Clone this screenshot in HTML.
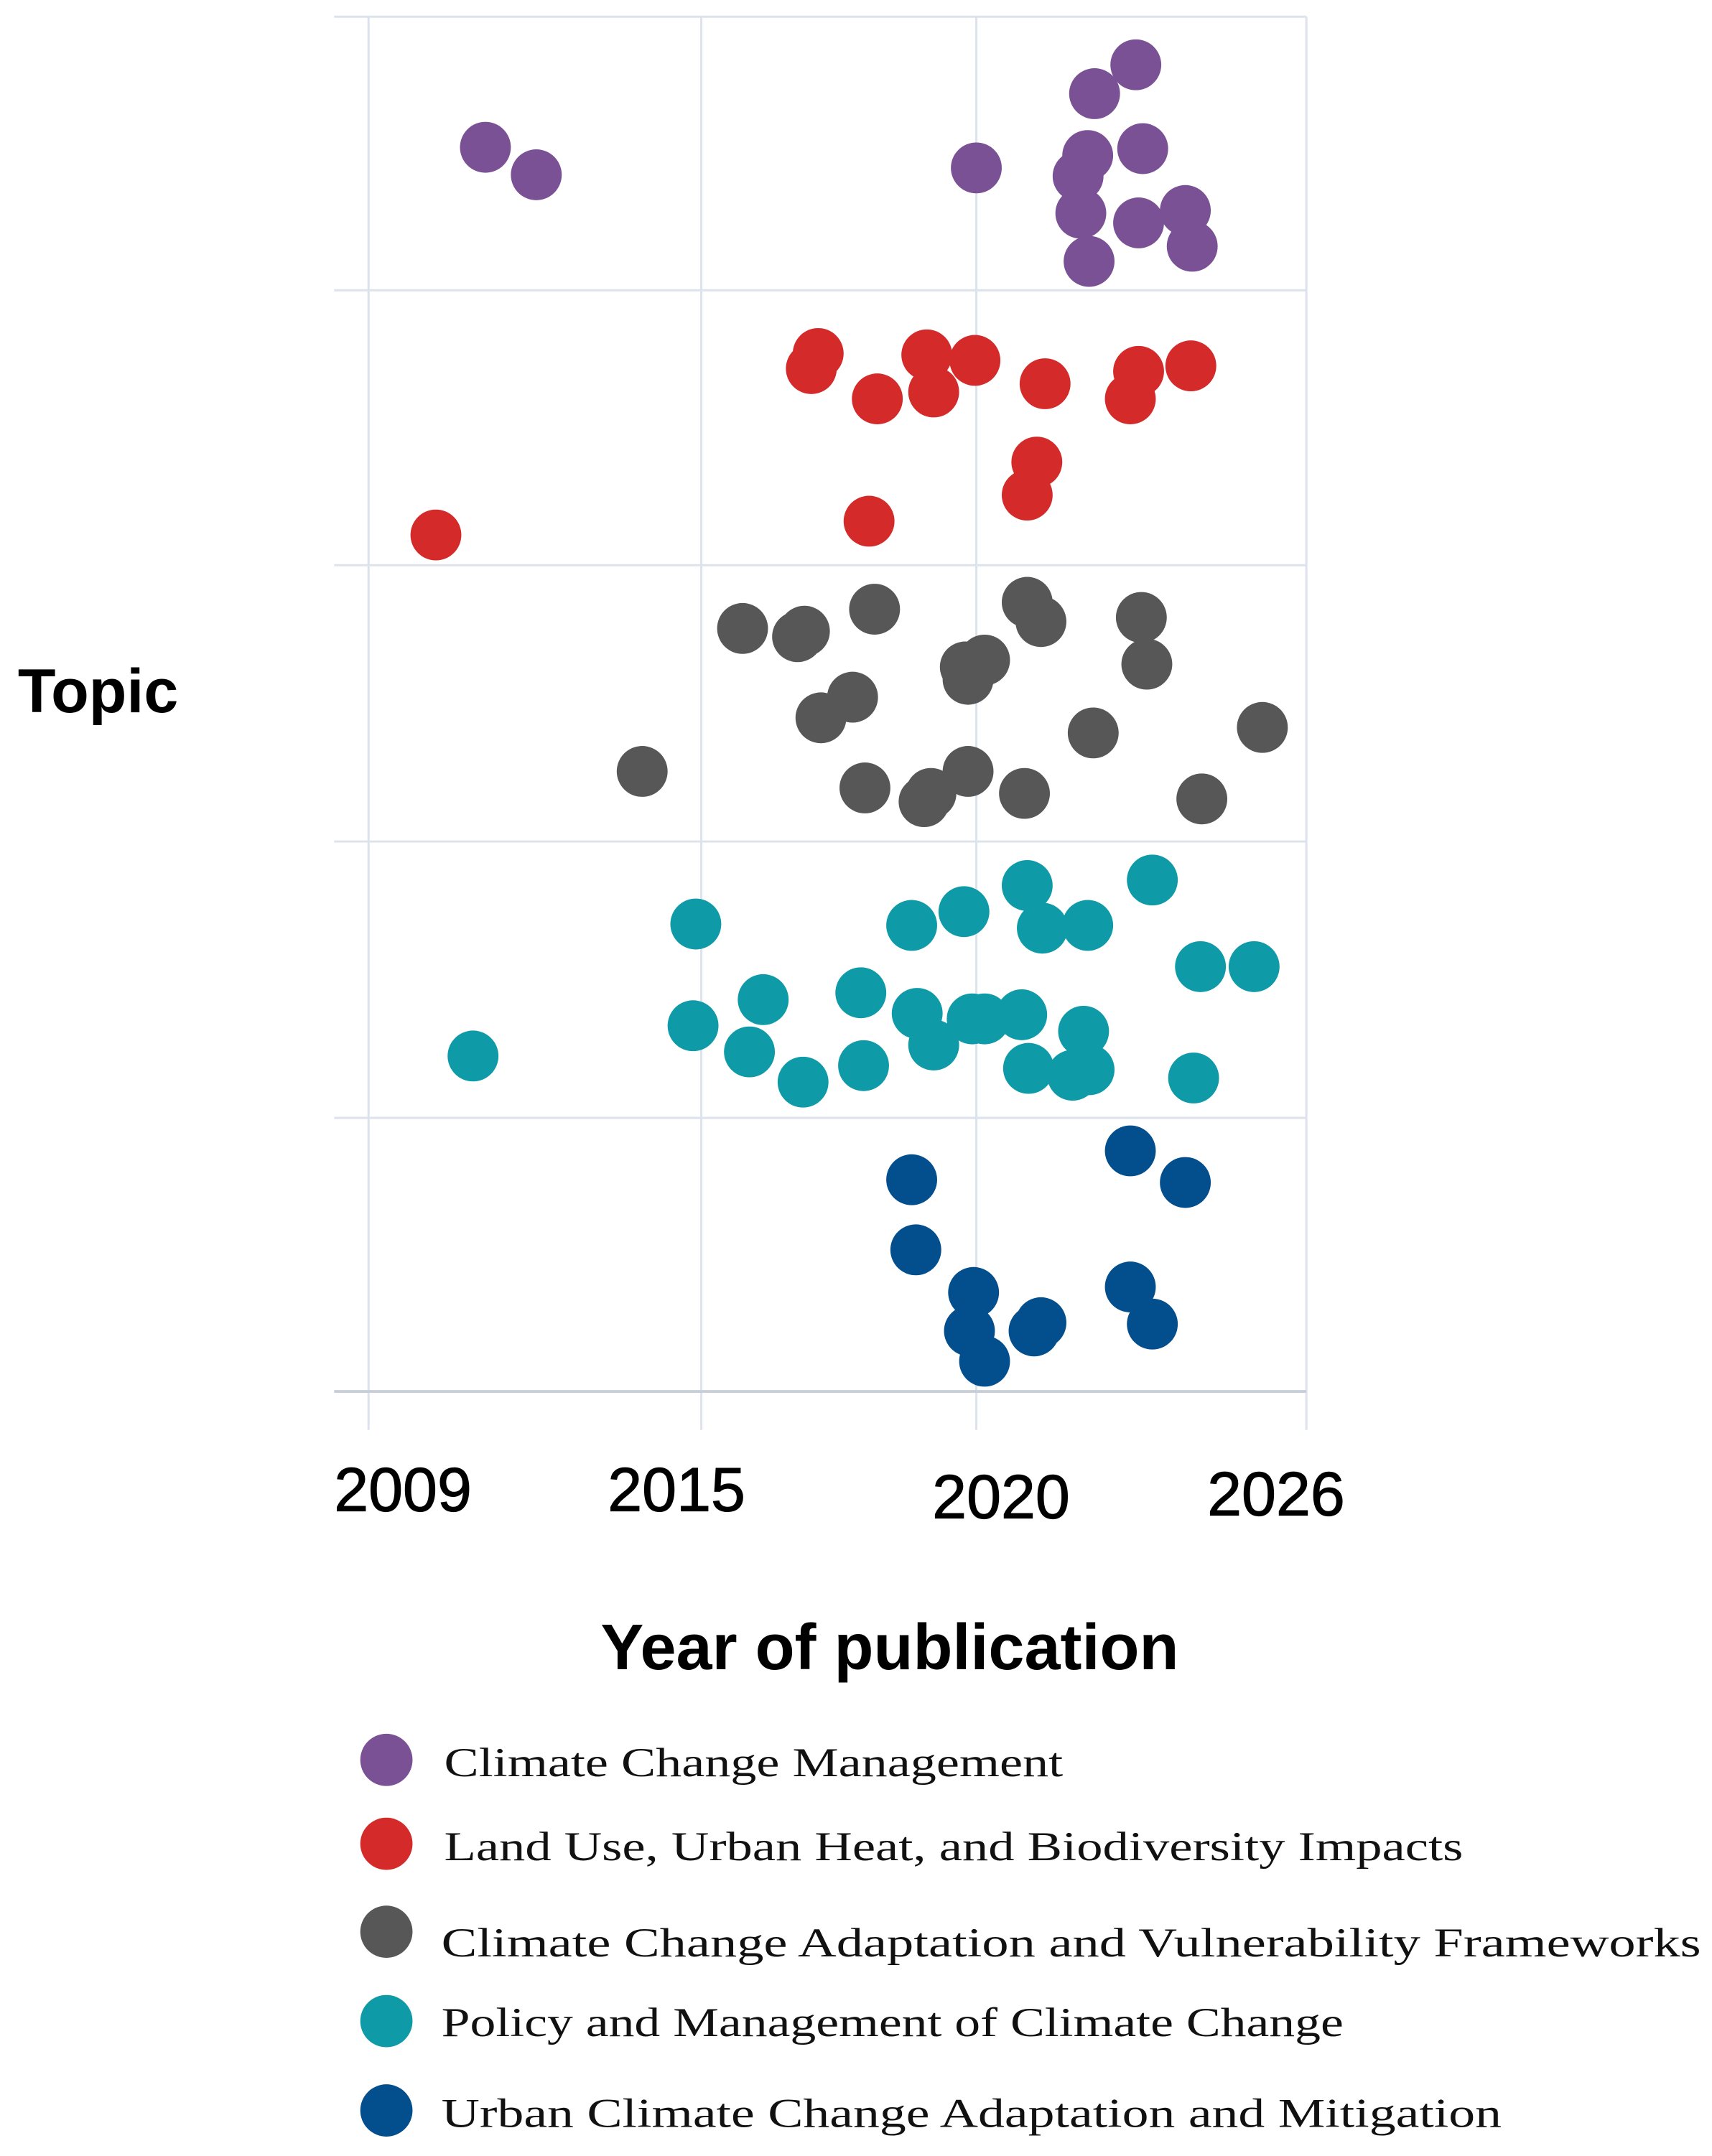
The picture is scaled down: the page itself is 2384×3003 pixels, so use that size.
<!DOCTYPE html>
<html><head><meta charset="utf-8"><style>html,body{margin:0;padding:0;background:#fff}svg{display:block}</style></head>
<body>
<svg width="2384" height="3003" viewBox="0 0 1245 1568" xmlns="http://www.w3.org/2000/svg">
<rect width="1245" height="1568" fill="#fff"/>
<g stroke="#dde3ec" stroke-width="1.6">
<line x1="243" y1="12" x2="950" y2="12"/>
<line x1="243" y1="211" x2="950" y2="211"/>
<line x1="243" y1="411" x2="950" y2="411"/>
<line x1="243" y1="612" x2="950" y2="612"/>
<line x1="243" y1="813" x2="950" y2="813"/>
<line x1="268" y1="12" x2="268" y2="1040"/>
<line x1="510" y1="12" x2="510" y2="1040"/>
<line x1="710" y1="12" x2="710" y2="1040"/>
<line x1="950" y1="12" x2="950" y2="1040"/>
</g>
<line x1="243" y1="1012" x2="950" y2="1012" stroke="#c8ced8" stroke-width="2"/>
<g fill="#7a5195">
<circle cx="353" cy="107" r="18.5"/><circle cx="390" cy="127" r="18.5"/><circle cx="710" cy="122" r="18.5"/><circle cx="826" cy="47" r="18.5"/><circle cx="796" cy="68" r="18.5"/><circle cx="831" cy="108" r="18.5"/><circle cx="791" cy="113" r="18.5"/><circle cx="784" cy="128" r="18.5"/><circle cx="786" cy="155" r="18.5"/><circle cx="828" cy="162" r="18.5"/><circle cx="862" cy="153" r="18.5"/><circle cx="867" cy="179" r="18.5"/><circle cx="792" cy="190" r="18.5"/>
</g>
<g fill="#d42a2a">
<circle cx="595" cy="257" r="18.5"/><circle cx="590" cy="268" r="18.5"/><circle cx="638" cy="290" r="18.5"/><circle cx="674" cy="258" r="18.5"/><circle cx="679" cy="285" r="18.5"/><circle cx="709" cy="262" r="18.5"/><circle cx="760" cy="279" r="18.5"/><circle cx="828" cy="270" r="18.5"/><circle cx="822" cy="290" r="18.5"/><circle cx="866" cy="266" r="18.5"/><circle cx="754" cy="336" r="18.5"/><circle cx="747" cy="360" r="18.5"/><circle cx="632" cy="379" r="18.5"/><circle cx="317" cy="389" r="18.5"/>
</g>
<g fill="#575757">
<circle cx="540" cy="457" r="18.5"/><circle cx="580" cy="463" r="18.5"/><circle cx="585" cy="459" r="18.5"/><circle cx="636" cy="443" r="18.5"/><circle cx="747" cy="438" r="18.5"/><circle cx="757" cy="452" r="18.5"/><circle cx="830" cy="449" r="18.5"/><circle cx="834" cy="483" r="18.5"/><circle cx="702" cy="485" r="18.5"/><circle cx="716" cy="480" r="18.5"/><circle cx="704" cy="494" r="18.5"/><circle cx="620" cy="507" r="18.5"/><circle cx="597" cy="522" r="18.5"/><circle cx="467" cy="561" r="18.5"/><circle cx="629" cy="573" r="18.5"/><circle cx="672" cy="583" r="18.5"/><circle cx="677" cy="577" r="18.5"/><circle cx="704" cy="561" r="18.5"/><circle cx="745" cy="577" r="18.5"/><circle cx="795" cy="533" r="18.5"/><circle cx="874" cy="581" r="18.5"/><circle cx="918" cy="529" r="18.5"/>
</g>
<g fill="#0e9aa7">
<circle cx="506" cy="672" r="18.5"/><circle cx="663" cy="673" r="18.5"/><circle cx="701" cy="663" r="18.5"/><circle cx="747" cy="644" r="18.5"/><circle cx="758" cy="675" r="18.5"/><circle cx="791" cy="673" r="18.5"/><circle cx="838" cy="640" r="18.5"/><circle cx="873" cy="703" r="18.5"/><circle cx="912" cy="703" r="18.5"/><circle cx="555" cy="727" r="18.5"/><circle cx="504" cy="746" r="18.5"/><circle cx="545" cy="765" r="18.5"/><circle cx="584" cy="787" r="18.5"/><circle cx="626" cy="722" r="18.5"/><circle cx="628" cy="775" r="18.5"/><circle cx="667" cy="737" r="18.5"/><circle cx="679" cy="760" r="18.5"/><circle cx="707" cy="741" r="18.5"/><circle cx="716" cy="741" r="18.5"/><circle cx="743" cy="738" r="18.5"/><circle cx="748" cy="777" r="18.5"/><circle cx="788" cy="750" r="18.5"/><circle cx="780" cy="782" r="18.5"/><circle cx="792" cy="778" r="18.5"/><circle cx="868" cy="784" r="18.5"/><circle cx="344" cy="768" r="18.5"/>
</g>
<g fill="#034e8c">
<circle cx="663" cy="858" r="18.5"/><circle cx="666" cy="909" r="18.5"/><circle cx="708" cy="940" r="18.5"/><circle cx="705" cy="968" r="18.5"/><circle cx="716" cy="990" r="18.5"/><circle cx="752" cy="968" r="18.5"/><circle cx="757" cy="962" r="18.5"/><circle cx="822" cy="837" r="18.5"/><circle cx="862" cy="860" r="18.5"/><circle cx="822" cy="936" r="18.5"/><circle cx="838" cy="963" r="18.5"/>
</g>
<g font-family="Liberation Sans, sans-serif" font-size="45" fill="#000" text-anchor="middle" stroke="#000" stroke-width="0.6">
<text x="293" y="1099">2009</text>
<text x="492" y="1099">2015</text>
<text x="728" y="1104">2020</text>
<text x="928" y="1102">2026</text>
</g>
<text x="13" y="518" font-family="Liberation Sans, sans-serif" font-weight="bold" font-size="45">Topic</text>
<text x="647" y="1214" font-family="Liberation Sans, sans-serif" font-weight="bold" font-size="47" text-anchor="middle">Year of publication</text>
<circle cx="281" cy="1280" r="19" fill="#7a5195"/>
<circle cx="281" cy="1341" r="19" fill="#d42a2a"/>
<circle cx="281" cy="1405" r="19" fill="#575757"/>
<circle cx="281" cy="1470" r="19" fill="#0e9aa7"/>
<circle cx="281" cy="1535" r="19" fill="#034e8c"/>
<g font-family="Liberation Serif, serif" font-size="30" fill="#111">
<text x="323" y="1292" textLength="450" lengthAdjust="spacingAndGlyphs">Climate Change Management</text>
<text x="323" y="1353" textLength="741" lengthAdjust="spacingAndGlyphs">Land Use, Urban Heat, and Biodiversity Impacts</text>
<text x="321" y="1423" textLength="916" lengthAdjust="spacingAndGlyphs">Climate Change Adaptation and Vulnerability Frameworks</text>
<text x="321" y="1481" textLength="656" lengthAdjust="spacingAndGlyphs">Policy and Management of Climate Change</text>
<text x="321" y="1547" textLength="771" lengthAdjust="spacingAndGlyphs">Urban Climate Change Adaptation and Mitigation</text>
</g>
</svg>
</body></html>
